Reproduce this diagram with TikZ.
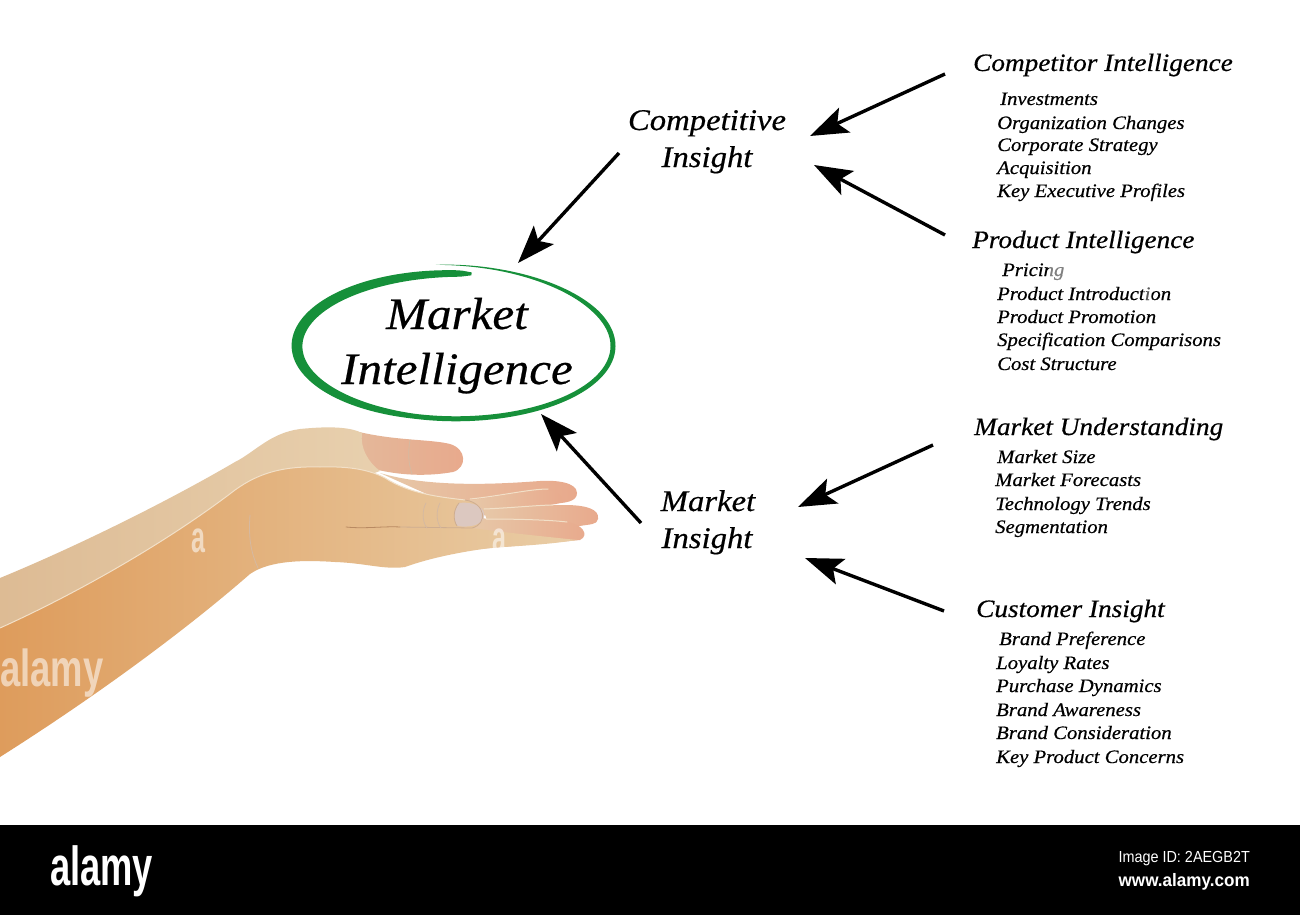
\documentclass[tikz,border=0pt]{standalone}
\usepackage{fontspec}
\setmainfont{Liberation Serif}[ItalicFeatures={FakeStretch=1.09,FakeBold=0.5}]
\newfontfamily\wmfont{Liberation Sans}
\usetikzlibrary{arrows.meta}
\definecolor{ringgreen}{HTML}{16903A}
\definecolor{skinback}{HTML}{E8D0AE}
\definecolor{skinbackd}{HTML}{DDBB94}
\definecolor{skinfront}{HTML}{E9CDA6}
\definecolor{skinmid}{HTML}{E5BC86}
\definecolor{skinarmd}{HTML}{DE9C5C}
\definecolor{skinline}{HTML}{B98A62}
\definecolor{skinpink}{HTML}{E8A98C}
\definecolor{fingerbase}{HTML}{E7C8A8}
\definecolor{thumbbase}{HTML}{E4B89A}
\definecolor{rimlight}{HTML}{F2E0C8}
\definecolor{nailcol}{HTML}{DCC8C0}
\tikzset{
 x=1pt,y=-1pt,
 declare function={
  hw(\t)=(2.5+3.0*max(0,cos(\t-195)))*min(1,(\t+97)/70)*min(1,(278-\t)/8+0.25);
  ryy(\t)=72.5+9*pow((276-\t)/371,5);
 },
 headtext/.style={font=\itshape\fontsize{30}{30}\selectfont,anchor=base,inner sep=0pt},
 maintext/.style={font=\itshape\fontsize{45}{45}\selectfont,anchor=base,inner sep=0pt},
 sect/.style={font=\itshape\fontsize{25}{25}\selectfont,anchor=base west,inner sep=0pt},
 item/.style={font=\itshape\fontsize{19}{19}\selectfont,anchor=base west,inner sep=0pt},
 conn/.style={line width=3.4pt,-{Stealth[length=38pt,width=27pt,inset=8pt]}},
 wm/.style={text=white,text opacity=.55,inner sep=0pt,anchor=base},
 crease/.style={line width=.8pt,draw=skinline,line cap=round},
 rim/.style={line width=1pt,draw=rimlight,line cap=round},
 finger/.style={shade,shading angle=90,left color=fingerbase,middle color=fingerbase,right color=skinpink},
}
\begin{document}
\begin{tikzpicture}
\useasboundingbox (0,0) rectangle (1300,915);
\fill[white] (0,0) rectangle (1300,915);
\fill[black] (0,825) rectangle (1300,915);
% back thumb
\path[shade,shading angle=90,left color=thumbbase,right color=skinpink]
 (355,431) .. controls (395,441) and (430,439) .. (450,444)
 .. controls (467,449) and (467,468) .. (453,472)
 .. controls (430,476) and (405,476) .. (378,470) -- (355,480) -- cycle;
% back hand and arm
\path[shade,shading angle=90,left color=skinbackd,right color=skinback]
 (0,578) .. controls (80,545) and (170,500) .. (235,462)
 .. controls (255,452) and (270,433) .. (300,429)
 .. controls (330,426) and (350,427) .. (362,433)
 .. controls (360,448) and (368,462) .. (380,471)
 -- (300,500) -- (0,630) -- cycle;
% back fingers
\path[finger]
 (380,473) .. controls (430,488) and (500,484) .. (540,481)
 .. controls (555,480) and (577,482) .. (577,493)
 .. controls (577,502) and (565,503) .. (550,504)
 .. controls (530,508) and (480,510) .. (440,500) -- cycle;
\path[finger]
 (470,500) .. controls (500,497) and (530,489) .. (545,490)
 .. controls (564,491) and (565,503) .. (556,504) -- (480,516) -- cycle;
\path[finger]
 (483,508) .. controls (510,507) and (540,505) .. (565,505)
 .. controls (585,505) and (600,509) .. (598,519)
 .. controls (597,525) and (590,524) .. (580,526)
 -- (490,530) -- cycle;
\path[finger]
 (470,515) -- (487,519) .. controls (520,520) and (550,520) .. (567,522)
 .. controls (582,524) and (590,535) .. (580,540)
 -- (470,550) -- cycle;
\draw[rim] (470,499) .. controls (500,496) and (530,489) .. (548,489);
\draw[rim] (484,509) .. controls (510,508) and (540,505) .. (553,505);
\draw[rim] (486,519) .. controls (520,519) and (550,520) .. (567,522);
% front arm and hand
\path[shade,shading angle=90,left color=skinarmd,middle color=skinmid,right color=skinfront]
 (0,628) .. controls (80,592) and (170,540) .. (235,490)
 .. controls (260,472) and (285,466) .. (320,467)
 .. controls (350,466) and (370,470) .. (385,478)
 .. controls (410,494) and (440,497) .. (465,500)
 .. controls (486,503) and (488,524) .. (472,528)
 .. controls (500,532) and (530,535) .. (577,540)
 .. controls (545,545) and (515,546) .. (490,548)
 .. controls (460,552) and (430,558) .. (405,567)
 .. controls (385,570) and (365,563) .. (335,562)
 .. controls (305,560) and (270,560) .. (250,574)
 .. controls (180,635) and (90,700) .. (0,757) -- cycle;
\draw[rim] (0,628) .. controls (80,592) and (170,540) .. (235,490)
 .. controls (260,472) and (285,466) .. (320,467)
 .. controls (350,466) and (370,470) .. (385,478)
 .. controls (410,494) and (440,497) .. (465,500);
% hand details
\fill[nailcol] (459,503) .. controls (476,501) and (486,509) .. (484,517)
 .. controls (482,525) and (470,528) .. (457,526)
 .. controls (453,520) and (454,508) .. (459,503) -- cycle;
\draw[crease,skinline!70] (459,503) .. controls (453,510) and (453,520) .. (457,526);
\draw[crease,skinline!70] (465,500) .. controls (486,503) and (488,524) .. (472,528) -- (400,527);
\draw[crease] (346,527) .. controls (365,529) and (385,526) .. (400,527);
\draw[crease,skinline!60] (426,503) .. controls (422,510) and (422,522) .. (427,528);
\draw[crease,skinline!60] (440,503) .. controls (436,510) and (436,522) .. (441,528);
\draw[crease,skinline!60] (410,440) .. controls (408,452) and (408,462) .. (412,474);
\draw[crease,skinline!60] (250,515) .. controls (248,540) and (252,555) .. (258,568);
% watermarks on the hands
\node[wm,font=\wmfont\bfseries\fontsize{52}{52}\selectfont,xscale=.7,anchor=base west] (wm1) at (0,686) {alamy};
\node[wm,font=\wmfont\bfseries\fontsize{44}{44}\selectfont,xscale=.57] (wm2) at (198,552) {a};
\node[wm,font=\wmfont\bfseries\fontsize{44}{44}\selectfont,xscale=.57] (wm3) at (499,552) {a};
% ring
\fill[ringgreen]
 plot[domain=276:-97,samples=220] ({455+(158-hw(\x))*cos(\x)},{346+(ryy(\x)-hw(\x))*sin(\x)})
 -- plot[domain=-97:276,samples=220] ({455+(158+hw(\x))*cos(\x)},{346+(ryy(\x)+hw(\x))*sin(\x)}) -- cycle;
% text
\node[maintext] (mi1) at (457,329) {Market};
\node[maintext] (mi2) at (457,384) {Intelligence};
\node[headtext] (ci1) at (707,130) {Competitive};
\node[headtext] (ci2) at (707,167) {Insight};
\node[headtext] (mk1) at (708,511) {Market};
\node[headtext] (mk2) at (707,548) {Insight};
\node[sect] (s1) at (973,71) {Competitor Intelligence};
\node[item] (a1) at (1000,105) {Investments};
\node[item] (a2) at (997,129) {Organization Changes};
\node[item] (a3) at (997,151) {Corporate Strategy};
\node[item] (a4) at (997,174) {Acquisition};
\node[item] (a5) at (997,197) {Key Executive Profiles};
\node[sect] (s2) at (972,248) {Product Intelligence};
\node[item] (b1) at (1002,276) {Pricing};
\node[item] (b2) at (997,300) {Product Introduction};
\node[item] (b3) at (997,323) {Product Promotion};
\node[item] (b4) at (997,346) {Specification Comparisons};
\node[item] (b5) at (997,370) {Cost Structure};
\node[sect] (s3) at (974,435) {Market Understanding};
\node[item] (c1) at (997,463) {Market Size};
\node[item] (c2) at (995,486) {Market Forecasts};
\node[item] (c3) at (995,510) {Technology Trends};
\node[item] (c4) at (995,533) {Segmentation};
\node[sect] (s4) at (976,617) {Customer Insight};
\node[item] (d1) at (999,645) {Brand Preference};
\node[item] (d2) at (996,669) {Loyalty Rates};
\node[item] (d3) at (996,692) {Purchase Dynamics};
\node[item] (d4) at (996,716) {Brand Awareness};
\node[item] (d5) at (996,739) {Brand Consideration};
\node[item] (d6) at (996,763) {Key Product Concerns};
% faint watermark patches over text
\fill[white,opacity=.5] (1049,262) rectangle (1067,283);
\fill[white,opacity=.35] (1143,285) rectangle (1152,303);
% connector ends
\coordinate (p1) at (945,74);   \coordinate (q1) at (810,136);
\coordinate (p2) at (945,235);  \coordinate (q2) at (814,165);
\coordinate (p3) at (619,153);  \coordinate (q3) at (518,263);
\coordinate (p4) at (641,523);  \coordinate (q4) at (541,414);
\coordinate (p5) at (933,445);  \coordinate (q5) at (798,507);
\coordinate (p6) at (944,611);  \coordinate (q6) at (805,558);
\foreach \i in {1,...,6} \draw[conn] (p\i) -- (q\i);
% footer
\node[text=white,font=\wmfont\bfseries\fontsize{55}{55}\selectfont,xscale=.66,anchor=base west,inner sep=0pt] (logo) at (50,885) {alamy};
\node[text=white,font=\wmfont\fontsize{16}{16}\selectfont,xscale=.9,anchor=base east,inner sep=0pt] (imgid) at (1250,862) {Image ID: 2AEGB2T};
\node[text=white,font=\wmfont\bfseries\fontsize{18}{18}\selectfont,xscale=.95,anchor=base east,inner sep=0pt] (www) at (1250,886) {www.alamy.com};
\end{tikzpicture}
\end{document}
